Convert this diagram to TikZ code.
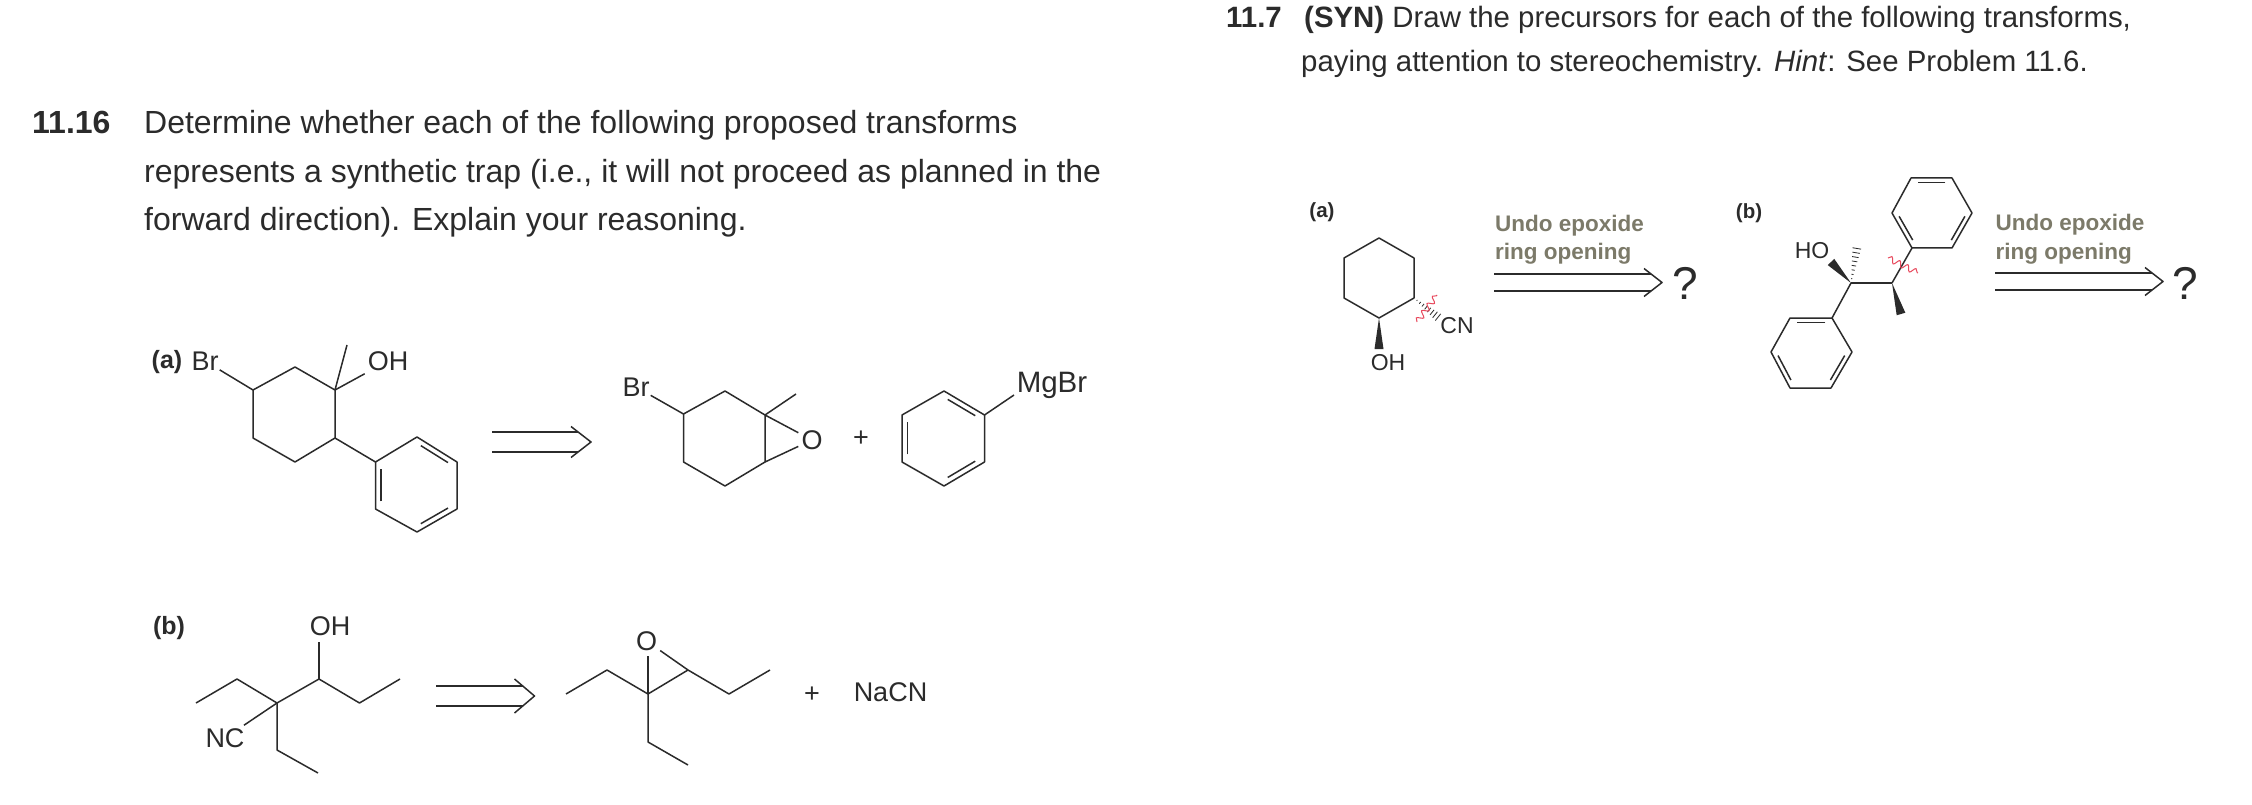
\documentclass[tikz,border=0pt]{standalone}
\usepackage{fontspec}
\setmainfont{Liberation Sans}
\usetikzlibrary{calc,decorations.pathmorphing}

\definecolor{inkgrey}{HTML}{2B2B2B}
\definecolor{glossgrey}{HTML}{7C7A69}
\definecolor{cutred}{HTML}{E8485C}

\tikzset{
  bond/.style={draw=inkgrey, line width=1.5pt, line join=round},
  atom/.style={font=\fontsize{27}{27}\selectfont, text=inkgrey, inner sep=3pt},
  atomsmall/.style={font=\fontsize{23}{23}\selectfont, text=inkgrey, inner sep=1pt},
  para/.style={font=\fontsize{32}{32}\selectfont, text=inkgrey, anchor=base west, inner sep=0pt},
  parab/.style={font=\fontsize{29.4}{29.4}\selectfont, text=inkgrey, anchor=base west, inner sep=0pt},
  tag/.style={font=\fontsize{25}{25}\bfseries\selectfont, text=inkgrey, inner sep=0pt},
  tagsmall/.style={font=\fontsize{20.5}{20.5}\bfseries\selectfont, text=inkgrey, inner sep=0pt},
  gloss/.style={font=\fontsize{22.5}{22.5}\bfseries\selectfont, text=glossgrey, anchor=base west, inner sep=0pt},
  ask/.style={font=\fontsize{46}{46}\selectfont, text=inkgrey, inner sep=0pt},
  cut/.style={draw=cutred, line width=1pt, decorate, decoration={snake, amplitude=3pt, segment length=9pt}},
}

% inner line of a double bond, pulled towards the ring centre
\newcommand{\dbl}[3]{\draw[bond] ($(#1)!.11!(#2)!.13!(#3)$) -- ($(#2)!.11!(#1)!.13!(#3)$);}
% solid wedge and hashed wedge, narrow end at #1
\newcommand{\wedgebond}[2]{\fill[inkgrey] (#1) -- ($(#2)!4.5pt!90:(#1)$) -- ($(#2)!4.5pt!-90:(#1)$) -- cycle;}
\newcommand{\hashbond}[2]{
  \foreach \t in {.12,.24,...,1.0} {
    \draw[inkgrey, line width=0.8pt] ($(#1)!\t!($(#2)!4.5pt!90:(#1)$)$) -- ($(#1)!\t!($(#2)!4.5pt!-90:(#1)$)$);
  }
}
% retrosynthesis arrow: start, tip, half gap, half barb height, barb length
\newcommand{\retroarrow}[5]{
  \draw[bond] ($(#1)+(0,-#3)$) -- ($(#2)+({-#5*#3/#4},-#3)$);
  \draw[bond] ($(#1)+(0,#3)$) -- ($(#2)+({-#5*#3/#4},#3)$);
  \draw[bond] ($(#2)+(-#5,-#4)$) -- (#2) -- ($(#2)+(-#5,#4)$);
}

\begin{document}
\begin{tikzpicture}[x=1pt,y=-1pt]
\useasboundingbox (0,0) rectangle (2252,805);
\fill[white] (0,0) rectangle (2252,805);

% problem texts
\node[para, font=\fontsize{32}{32}\bfseries\selectfont] (numA) at (32,133.5) {11.16};
\node[para] (paraA) at (144,133.5) {Determine whether each of the following proposed transforms};
\node[para] (paraB) at (144,182.5) {represents a synthetic trap (i.e., it will not proceed as planned in the};
\node[para] (paraC) at (144,230.5) {forward direction). Explain your reasoning.};
\node[parab, font=\fontsize{29.4}{29.4}\bfseries\selectfont] (numB) at (1226,28) {11.7};
\node[parab] (paraD) at (1304,28) {\textbf{(SYN)} Draw the precursors for each of the following transforms,};
\node[parab] (paraE) at (1301,72) {paying attention to stereochemistry. \textit{Hint}: See Problem 11.6.};

% left (a), alcohol
\foreach \n/\x/\y in {a1/253/390,a2/295/367,a3/335/390,a4/335/438,a5/295/462,a6/253/438,
  aMe/347/345,
  p1/375.5/462,p2/417/437,p3/457/462,p4/457/509,p5/417/532,p6/375.5/509,pc/417/485} {
  \coordinate (\n) at (\x,\y);
}
\node[tag] (tagA) at (167,362) {(a)};
\node[atom, inner sep=1pt] (brA) at (205,361) {Br};
\node[atom] (ohA) at (388,361) {OH};
\draw[bond] (a1) -- (a2) -- (a3) -- (a4) -- (a5) -- (a6) -- cycle;
\draw[bond] (a1) -- (brA);
\draw[bond] (a3) -- (ohA);
\draw[bond] (a3) -- (aMe);
\draw[bond] (a4) -- (p1);
\draw[bond] (p1) -- (p2) -- (p3) -- (p4) -- (p5) -- (p6) -- cycle;
\dbl{p2}{p3}{pc}
\dbl{p4}{p5}{pc}
\dbl{p6}{p1}{pc}

\coordinate (ra1) at (492,442);
\coordinate (ra2) at (591,442);
\retroarrow{ra1}{ra2}{10}{15.5}{20}

% left (a), epoxide and phenyl bromide
\foreach \n/\x/\y in {e1/683.5/414,e2/725/391,e3/765/415,e4/765/462,e5/725/486,e6/683.5/462,
  eMe/796/394,
  q1/944/391,q2/984.5/415,q3/984.5/462,q4/944/486,q5/902/462,q6/902/415,qc/943/438,qM/1014/395} {
  \coordinate (\n) at (\x,\y);
}
\node[atom, inner sep=1pt] (brE) at (636,387) {Br};
\node[atom] (oE) at (812,440) {O};
\node[atom, font=\fontsize{29.5}{29.5}\selectfont] (mgbr) at (1052,385) {MgBr};
\node[atom] (plusA) at (861,439) {+};
\draw[bond] (e1) -- (e2) -- (e3) -- (e4) -- (e5) -- (e6) -- cycle;
\draw[bond] (e1) -- (brE);
\draw[bond] (e3) -- (eMe);
\draw[bond] (e3) -- (oE);
\draw[bond] (e4) -- (oE);
\draw[bond] (q1) -- (q2) -- (q3) -- (q4) -- (q5) -- (q6) -- cycle;
\draw[bond] (q2) -- (qM);
\dbl{q1}{q2}{qc}
\dbl{q3}{q4}{qc}
\dbl{q5}{q6}{qc}

% left (b), nitrile
\foreach \n/\x/\y in {b1/196/703,b2/237/679,b3/277/703,b4/319/679,b5/359.5/703,b6/400/679,
  b7/277/750,b8/318/773,bOH/319/642} {
  \coordinate (\n) at (\x,\y);
}
\node[tag] (tagB) at (169,628) {(b)};
\node[atom] (ohB) at (330,626) {OH};
\node[atom] (ncB) at (225,738) {NC};
\draw[bond] (b1) -- (b2) -- (b3) -- (b4) -- (b5) -- (b6);
\draw[bond] (b3) -- (b7) -- (b8);
\draw[bond] (b3) -- (ncB);
\draw[bond] (b4) -- (bOH);

\coordinate (rb1) at (436,696);
\coordinate (rb2) at (534.5,696);
\retroarrow{rb1}{rb2}{10}{17}{20}

% left (b), epoxide
\foreach \n/\x/\y in {d1/566/694,d2/607/670,d3/648/694,d4/688/670,d5/729/694,d6/770/670,
  d7/648/742,d8/688/765,dO/648/656} {
  \coordinate (\n) at (\x,\y);
}
\node[atom] (oD) at (646.5,641) {O};
\node[atom] (plusB) at (812,695) {+};
\node[atom] (nacn) at (890.5,692) {NaCN};
\draw[bond] (d1) -- (d2) -- (d3) -- (d4) -- (d5) -- (d6);
\draw[bond] (d3) -- (d7) -- (d8);
\draw[bond] (d3) -- (dO);
\draw[bond] (d4) -- (oD);

% right (a)
\foreach \n/\x/\y in {h1/1379/238,h2/1414/258,h3/1414/298,h4/1379/318,h5/1344/298,h6/1344/258,
  hW/1379/349,hH/1439/318,hCa/1417/322,hCb/1437/295} {
  \coordinate (\n) at (\x,\y);
}
\node[tagsmall] (tagC) at (1322,212) {(a)};
\node[atomsmall] (ohH) at (1388,363) {OH};
\node[atomsmall] (cnH) at (1457,326) {CN};
\draw[bond] (h1) -- (h2) -- (h3) -- (h4) -- (h5) -- (h6) -- cycle;
\wedgebond{h4}{hW}
\hashbond{h3}{hH}
\draw[cut] (hCa) -- (hCb);
\node[gloss] (glossA) at (1495,232) {Undo epoxide};
\node[gloss] (glossB) at (1495,260) {ring opening};
\coordinate (rc1) at (1494,282.5);
\coordinate (rc2) at (1662,282.5);
\retroarrow{rc1}{rc2}{8.5}{14}{18}
\node[ask] (askA) at (1685,283) {?};

% right (b)
\foreach \n/\x/\y in {k1/1851/283,k2/1892/283,kH/1857/247,kW/1901/314,kW2/1831/262,
  u1/1832/318,u2/1790/318,u3/1771/352,u4/1790/388,u5/1831/388,u6/1852/352,uc/1811/353,
  v1/1912/248,v2/1952/248,v3/1972/213,v4/1952/178,v5/1911/178,v6/1892/213,vc/1932/213,
  kCa/1888/258,kCb/1918/273} {
  \coordinate (\n) at (\x,\y);
}
\node[tagsmall] (tagD) at (1749,213) {(b)};
\node[atomsmall] (hoK) at (1812,251) {HO};
\draw[bond] (k1) -- (k2);
\draw[bond] (k1) -- (u1);
\draw[bond] (k2) -- (v1);
\draw[bond] (u1) -- (u2) -- (u3) -- (u4) -- (u5) -- (u6) -- cycle;
\draw[bond] (v1) -- (v2) -- (v3) -- (v4) -- (v5) -- (v6) -- cycle;
\dbl{u1}{u2}{uc}
\dbl{u3}{u4}{uc}
\dbl{u5}{u6}{uc}
\dbl{v4}{v5}{vc}
\dbl{v2}{v3}{vc}
\dbl{v6}{v1}{vc}
\wedgebond{k1}{kW2}
\hashbond{k1}{kH}
\wedgebond{k2}{kW}
\draw[cut] (kCa) -- (kCb);
\node[gloss] (glossC) at (1995.5,231) {Undo epoxide};
\node[gloss] (glossD) at (1995.5,260) {ring opening};
\coordinate (rd1) at (1995,281.5);
\coordinate (rd2) at (2163,281.5);
\retroarrow{rd1}{rd2}{8.5}{14}{18}
\node[ask] (askB) at (2185,283) {?};
\end{tikzpicture}
\end{document}
